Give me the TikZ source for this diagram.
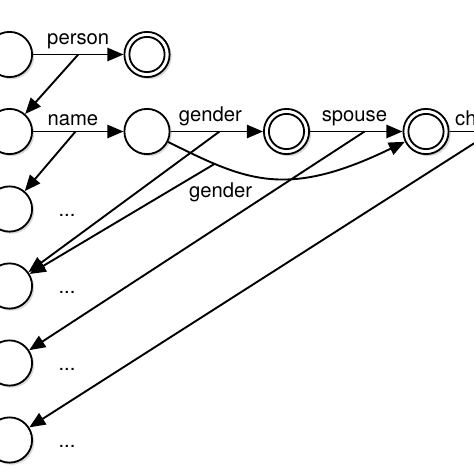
\documentclass[tikz,border=0pt]{standalone}
\usepackage{fontspec}
\setmainfont{TeX Gyre Heros}
\usetikzlibrary{arrows.meta, shadows}

\begin{document}
\begin{tikzpicture}[
  x=0.025cm, y=-0.025cm,
  font=\fontsize{14.4}{17}\selectfont,
  state/.style={circle, draw, line width=1.3pt, fill=white, minimum size=1.13cm, inner sep=0pt,
                drop shadow={opacity=0.3, shadow xshift=1.5pt, shadow yshift=-1.5pt}},
  final/.style={state, path picture={\draw[line width=1.3pt] (path picture bounding box.center) circle (0.44cm);}},
  a/.style={-{Triangle[length=4mm, width=3.3mm]}, line width=1.35pt},
  lbl/.style={above},
  more/.style={anchor=base}
]
\clip (0,0) rectangle (474,474);
% left column
\node[state] (s1) at (9.5,54.5) {};
\node[state] (s2) at (9.5,131.5) {};
\node[state] (s3) at (9.5,209) {};
\node[state] (s4) at (9.5,286) {};
\node[state] (s5) at (9.5,363) {};
\node[state] (s6) at (9.5,440) {};
\node[more] (d3) at (67,216) {...};
\node[more] (d4) at (67,293) {...};
\node[more] (d5) at (67,370) {...};
\node[more] (d6) at (67,447) {...};
% top rows
\node[final] (f1) at (147,54.5) {};
\node[state] (n2) at (147,131.5) {};
\node[final] (g2) at (286.5,131.5) {};
\node[final] (sp) at (426,131.5) {};
\coordinate (ch) at (560,131.5);

\draw[a] (s1) -- node[lbl, pos=0.5] {person} coordinate[pos=0.5] (c1) (f1);
\draw[a] (s2) -- node[lbl, pos=0.44] {name} coordinate[pos=0.47] (c2) (n2);
\draw[a] (n2) -- node[lbl, pos=0.43] {gender} coordinate[pos=0.53] (c3) (g2);
\draw[a] (n2) .. controls (245,180) and (285,200) .. (sp)
  coordinate[pos=0.22] (c4) node[pos=0.25, below=8pt] {gender};
\draw[a] (g2) -- node[lbl, pos=0.48] {spouse} coordinate[pos=0.59] (c5) (sp);
\draw[a] (sp) -- coordinate[pos=0.39] (c6) (ch) node[pos=0, above right] {ch};

% back to the left column
\draw[a] (c1) -- (s2);
\draw[a] (c2) -- (s3);
\draw[a] (c3) -- (s4);
\draw[a] (c4) -- (s4);
\draw[a] (c5) -- (s5);
\draw[a] (c6) -- (s6);
\end{tikzpicture}
\end{document}
